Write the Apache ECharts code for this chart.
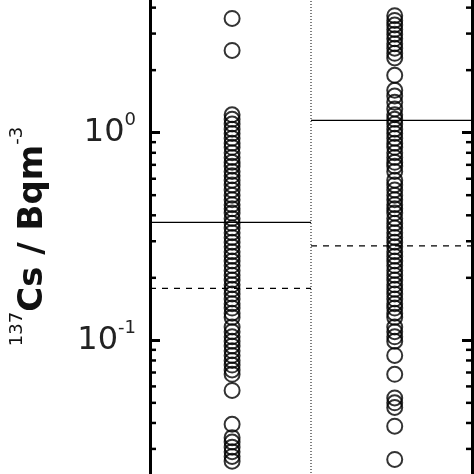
<!DOCTYPE html>
<html><head><meta charset="utf-8">
<script src="https://cdn.jsdelivr.net/npm/echarts@6/dist/echarts.min.js"></script>
<style>html,body{margin:0;padding:0;overflow:hidden;width:474px;height:474px}#main{width:474px;height:660px;margin-top:-96px}</style>
</head><body><div id="main"></div>
<script>
// 137Cs concentrations, two groups
var groupA = [3.55,2.49,1.22,1.16,1.10,1.04,0.99,0.94,0.89,0.85,0.80,0.76,0.72,0.69,0.65,0.62,0.59,0.56,0.53,0.50,0.475,0.45,0.43,0.41,0.386,0.366,0.347,0.33,0.313,0.297,0.282,0.267,0.254,0.241,0.229,0.217,0.206,0.195,0.185,0.176,0.167,0.158,0.150,0.143,0.135,0.129,0.116,0.11,0.104,0.099,0.094,0.089,0.0846,0.080,0.076,0.072,0.0686,0.0574,0.0394,0.034,0.0324,0.0306,0.0291,0.0276,0.0262];
var groupB = [3.66,3.47,3.3,3.14,2.98,2.83,2.68,2.55,2.41,2.29,1.89,1.6,1.5,1.4,1.3,1.22,1.16,1.10,1.04,0.99,0.94,0.89,0.85,0.80,0.76,0.72,0.69,0.65,0.59,0.56,0.53,0.50,0.475,0.45,0.43,0.41,0.386,0.366,0.347,0.33,0.313,0.297,0.282,0.267,0.254,0.241,0.229,0.217,0.206,0.195,0.185,0.176,0.167,0.158,0.150,0.143,0.135,0.129,0.116,0.11,0.104,0.099,0.0846,0.0686,0.0528,0.050,0.0475,0.0386,0.0267];
var meanA = 0.370, medianA = 0.178;
var meanB = 1.146, medianB = 0.285;
var minorTickValues = [];
[0.01,0.1,1].forEach(function(d){ for(var k=2;k<=9;k++) minorTickValues.push(d*k); });

var myChart = echarts.init(document.getElementById('main'));
function pts(arr, x){ return arr.map(function(v){ return [x, v]; }); }
function hline(x0, x1, v, type){
  return {type:'line', data:[[x0,v],[x1,v]], symbol:'none', silent:true,
    lineStyle:{color:'#000', width:1.3, type:type}};
}
var axisBase = {type:'log', logBase:10, min:0.01, max:10,
  axisLine:{show:true, lineStyle:{color:'#000', width:3}},
  axisTick:{show:true, inside:true, length:10, lineStyle:{color:'#000', width:3}},
  splitLine:{show:false}};
function minorTicks(side){
  return {type:'custom', yAxisIndex:0, silent:true, data:minorTickValues.map(function(v){return [side, v];}),
    renderItem:function(params, api){
      var p = api.coord([api.value(0), api.value(1)]);
      var dir = side === 0 ? 1 : -1;
      return {type:'line', shape:{x1:p[0], y1:p[1], x2:p[0]+dir*6, y2:p[1]},
        style:{stroke:'#000', lineWidth:2.5}};
    }};
}
var option = {
  animation:false,
  grid:{left:143, right:2, top:0, bottom:0},
  xAxis:{type:'value', min:0, max:2, show:false},
  yAxis:[
    Object.assign({}, axisBase, {position:'left',
      name:'{sup|137}{b|Cs / Bqm}{sup|-3}', nameLocation:'middle', nameGap:100, nameRotate:90,
      nameTextStyle:{rich:{
        b:{fontFamily:'DejaVu Sans', fontSize:34, fontWeight:'bold', color:'#111', verticalAlign:'bottom'},
        sup:{fontFamily:'DejaVu Sans', fontSize:18, color:'#111', verticalAlign:'top', padding:[0,0,24,0]}}},
      axisLabel:{margin:14, formatter:function(v){
          var e = Math.round(Math.log10(v));
          return '{b|10}{s|' + e + '}';
        },
        rich:{b:{fontFamily:'DejaVu Sans', fontSize:32, color:'#222'},
              s:{fontFamily:'DejaVu Sans', fontSize:18, color:'#222', padding:[0,0,24,0]}}}}),
    Object.assign({}, axisBase, {position:'right', axisLabel:{show:false}})
  ],
  series:[
    {type:'scatter', data:pts(groupA, 0.51), symbol:'circle', symbolSize:15,
      itemStyle:{color:'rgba(0,0,0,0)', borderColor:'#000', borderWidth:2}},
    {type:'scatter', data:pts(groupB, 1.52), symbol:'circle', symbolSize:15,
      itemStyle:{color:'rgba(0,0,0,0)', borderColor:'#000', borderWidth:2}},
    hline(0, 1, meanA, 'solid'),
    hline(0, 1, medianA, [6,6]),
    hline(1, 2, meanB, 'solid'),
    hline(1, 2, medianB, [6,6]),
    {type:'line', data:[[1,0.01],[1,10]], symbol:'none', silent:true,
      lineStyle:{color:'#000', width:1, type:[1,2]}},
    minorTicks(0),
    minorTicks(2)
  ]
};
myChart.setOption(option);
</script>
</body></html>
